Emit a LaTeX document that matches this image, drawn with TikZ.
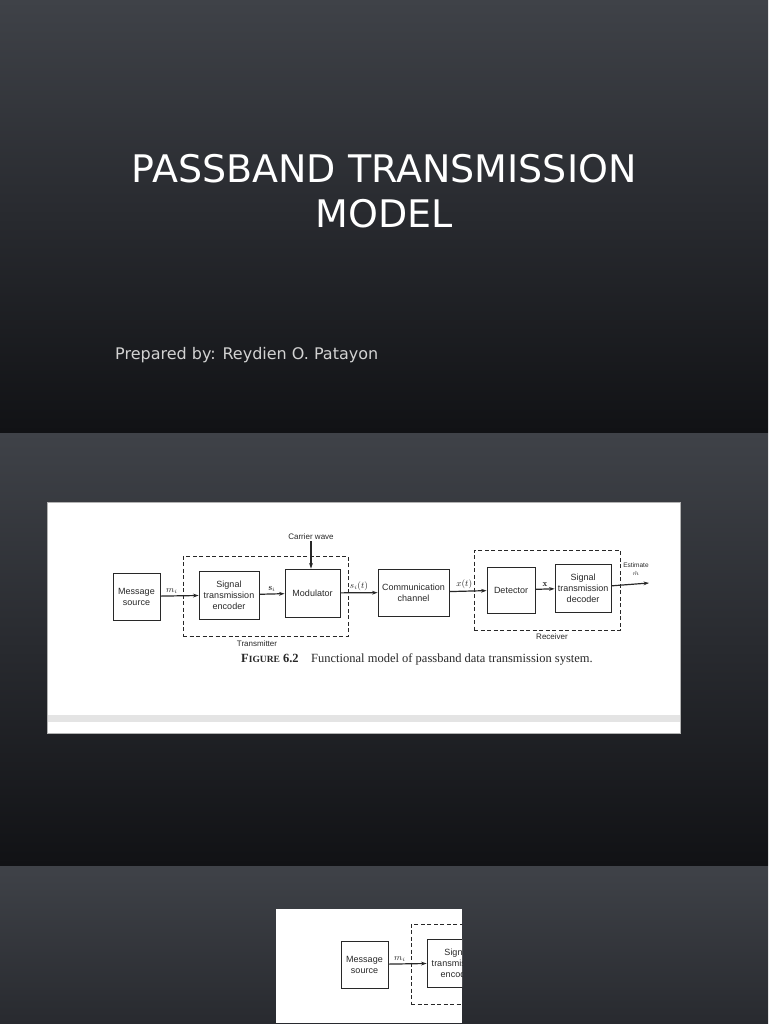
\documentclass[tikz,border=0pt]{standalone}
\usepackage{fontspec}
\usepackage{amsmath,amssymb}
\usepackage{tikz}
\usetikzlibrary{positioning}
\usetikzlibrary{arrows.meta}
\newfontfamily\titlefont{DejaVu Sans}
\newfontfamily\figfont{Liberation Sans}
\newfontfamily\capfont{Liberation Serif}
\definecolor{slidetop}{RGB}{63,66,72}
\definecolor{slidemid}{RGB}{40,42,47}
\definecolor{slidebot}{RGB}{17,18,21}
\definecolor{inkcolor}{RGB}{40,40,40}
\definecolor{bandcolor}{RGB}{228,228,228}
\definecolor{subcolor}{RGB}{210,210,210}

\tikzset{
    block/.style={rectangle, draw=inkcolor, line width=0.9pt, fill=white, align=center, inner sep=1pt, text=inkcolor, font=\figfont\fontsize{9}{11}\selectfont},
    groupbox/.style={rectangle, draw=inkcolor, line width=0.8pt, dash pattern=on 4pt off 2.5pt},
    arr/.style={-{Stealth[length=5.5pt, width=3.8pt]}, line width=1.2pt, draw=inkcolor},
    lbl/.style={font=\figfont\fontsize{8}{9.5}\selectfont, text=inkcolor, inner sep=1pt},
    mlbl/.style={font=\fontsize{9}{10}\selectfont, text=inkcolor, inner sep=1.5pt}
}

% left part of the scanned diagram (shown on both slides)
\newcommand{\passbandfront}{%
    \node[groupbox, minimum width=165pt, minimum height=80pt] (tx) at (265.5,596) {};
    \node[block, minimum width=47pt, minimum height=47pt] (src) at (136.5,596.5) {Message\\source};
    \node[block, minimum width=60pt, minimum height=48pt] (enc) at (229,595) {Signal\\transmission\\encoder};
    \draw[arr] (src) -- node[mlbl, above, pos=0.3] {$m_i$} (enc);
}
% rest of the diagram
\newcommand{\passbandrest}{%
    \node[groupbox, minimum width=146pt, minimum height=80pt] (rx) at (547,590) {};
    \node[block, minimum width=55pt, minimum height=48pt] (mod) at (312.5,593) {Modulator};
    \node[block, minimum width=71pt, minimum height=47pt] (chan) at (413.5,592.5) {Communication\\channel};
    \node[block, minimum width=48pt, minimum height=46pt] (det) at (511,590) {Detector};
    \node[block, minimum width=56pt, minimum height=48pt] (dec) at (583,588) {Signal\\transmission\\decoder};
    \node[lbl] (carrier) at (311,537) {Carrier wave};
    \node[lbl] (txlabel) at (257,644) {Transmitter};
    \node[lbl] (rxlabel) at (552,637) {Receiver};
    \node[lbl, align=center, font=\figfont\fontsize{6.5}{8}\selectfont] (estlabel) at (636,569) {Estimate\\$\hat{m}$};
    \coordinate (est) at (649,583);
    \draw[arr] (enc) -- node[mlbl, above] {$\mathbf{s}_i$} (mod);
    \draw[arr] (mod) -- node[mlbl, above] {$s_i(t)$} (chan);
    \draw[arr] (chan) -- node[mlbl, above, pos=0.4] {$x(t)$} (det);
    \draw[arr] (det) -- node[mlbl, above] {$\mathbf{x}$} (dec);
    \draw[arr] (dec) -- (est);
    \draw[arr] (carrier.south) -- (carrier.south |- mod.north);
}

\begin{document}
\begin{tikzpicture}[x=1pt, y=-1pt]
\useasboundingbox (0,0) rectangle (768,1024);

% slide backgrounds
\shade[top color=slidetop, bottom color=slidebot, middle color=slidemid] (0,0) rectangle (768,432);
\shade[top color=slidetop, bottom color=slidebot, middle color=slidemid] (0,433) rectangle (768,865);
\shade[top color=slidetop, bottom color=slidemid] (0,866) rectangle (768,1024);

% slide 1
\node[align=center, inner sep=0pt, text=white, font=\titlefont\fontsize{38}{45}\selectfont] (title) at (384,191.5) {PASSBAND TRANSMISSION\\MODEL};
\node[anchor=base west, inner sep=0pt, text=subcolor, font=\titlefont\fontsize{16}{19}\selectfont] (author) at (115,359) {Prepared by: Reydien O. Patayon};

% slide 2
\fill[white] (47,502) rectangle (680,733);
\fill[bandcolor] (47,715) rectangle (680,722);
\draw[gray!60, line width=0.6pt] (47,502) rectangle (680,733);
\passbandfront
\passbandrest
\node[anchor=base, inner sep=0pt, text=inkcolor, font=\capfont\fontsize{12.5}{14}\selectfont] (caption) at (417,662) {\textbf{F{\fontsize{9.5}{11}\selectfont IGURE} 6.2}\quad Functional model of passband data transmission system.};

% slide 3
\begin{scope}
\clip (276,909) rectangle (462,1023);
\fill[white] (276,909) rectangle (462,1023);
\begin{scope}[shift={(228,368)}, name prefix=c-]
\passbandfront
\end{scope}
\end{scope}

\end{tikzpicture}
\end{document}
